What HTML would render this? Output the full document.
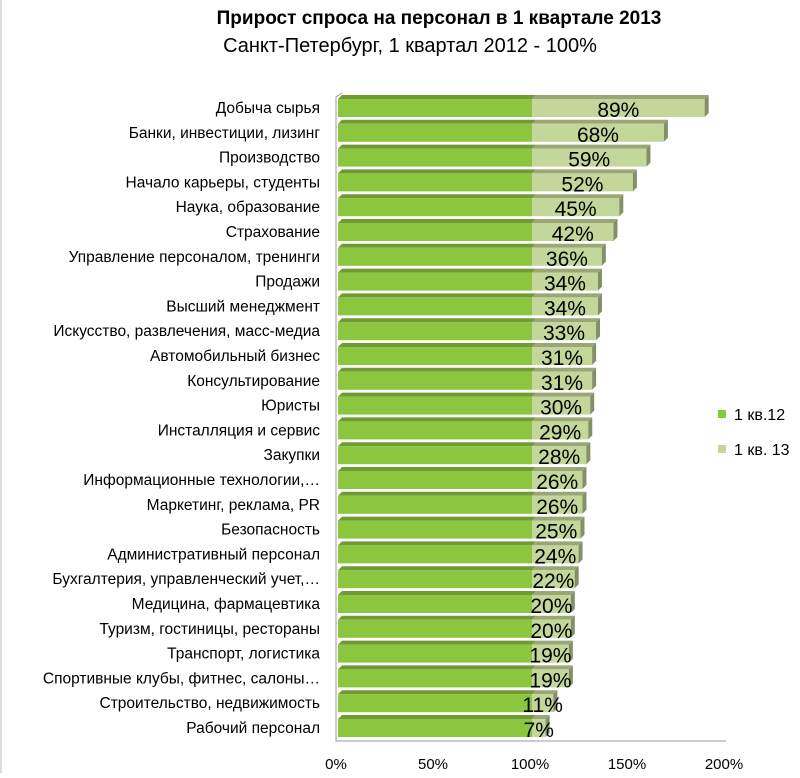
<!DOCTYPE html>
<html><head><meta charset="utf-8"><style>
body{margin:0;background:#fff;}
svg text{font-family:"Liberation Sans","DejaVu Sans",sans-serif;}
</style></head><body>
<svg width="800" height="773" xmlns="http://www.w3.org/2000/svg">
<line x1="1" y1="0" x2="1" y2="773" stroke="#bbb"/>
<text x="439" y="24" text-anchor="middle" font-size="19" font-weight="bold">Прирост спроса на персонал в 1 квартале 2013</text>
<text x="410" y="52" text-anchor="middle" font-size="20">Санкт-Петербург, 1 квартал 2012 - 100%</text>
<g id="plot"></g>
<g>
<rect x="718" y="410" width="8" height="8" fill="#8cc63f"/>
<text x="734" y="420" font-size="16">1 кв.12</text>
<rect x="718" y="445" width="8" height="8" fill="#c4d79b"/>
<text x="734" y="455" font-size="16">1 кв. 13</text>
</g>
</svg>
<script>
const categories=["Добыча сырья","Банки, инвестиции, лизинг","Производство","Начало карьеры, студенты","Наука, образование","Страхование","Управление персоналом, тренинги","Продажи","Высший менеджмент","Искусство, развлечения, масс-медиа","Автомобильный бизнес","Консультирование","Юристы","Инсталляция и сервис","Закупки","Информационные технологии,…","Маркетинг, реклама, PR","Безопасность","Административный персонал","Бухгалтерия, управленческий учет,…","Медицина, фармацевтика","Туризм, гостиницы, рестораны","Транспорт, логистика","Спортивные клубы, фитнес, салоны…","Строительство, недвижимость","Рабочий персонал"];
const base2012=[100,100,100,100,100,100,100,100,100,100,100,100,100,100,100,100,100,100,100,100,100,100,100,100,100,100];
const growth2013=[89,68,59,52,45,42,36,34,34,33,31,31,30,29,28,26,26,25,24,22,20,20,19,19,11,7];
const xTicks=[0,50,100,150,200];
const NS="http://www.w3.org/2000/svg";
const g=document.getElementById('plot');
const x0=338,xs=1.94,y0=99,step=24.8,bh=18,d=4;
const X=v=>x0+v*xs;
const Y=i=>y0+i*step;
function mk(t,a,name){const e=document.createElementNS(NS,t);for(const k in a)e.setAttribute(k,a[k]);


g.appendChild(e);return e;}
mk('polyline',{points:`${x0+d},93 ${x0-2},97 ${x0-2},741 ${X(200)},741`,fill:'none',stroke:'#999','stroke-width':1},'axes');
xTicks.forEach(t=>{const e=mk('text',{x:X(t)-2,y:769,'text-anchor':'middle','font-size':15},'x-tick-label');e.textContent=t+'%';});
categories.forEach((c,i)=>{
 const y=Y(i),a=X(0),b=X(base2012[i]),e=X(base2012[i]+growth2013[i]);
 mk('polygon',{points:`${a},${y} ${a+d},${y-d} ${b+d},${y-d} ${b},${y}`,fill:'#6f9a34'},'bar-2012-top');
 mk('rect',{x:a,y:y,width:b-a,height:bh,fill:'#8cc63f'},'bar-2012');
 mk('polygon',{points:`${b},${y} ${b+d},${y-d} ${e+d},${y-d} ${e},${y}`,fill:'#9aa676'},'bar-2013-top');
 mk('rect',{x:b,y:y,width:e-b,height:bh,fill:'#c4d79b'},'bar-2013');
 mk('polygon',{points:`${e},${y} ${e+d},${y-d} ${e+d},${y+bh-d} ${e},${y+bh}`,fill:'#848f68'},'bar-side');
 const l=mk('text',{x:320,y:y+14,'text-anchor':'end','font-size':15.5},'category-label');l.textContent=c;
 const v=mk('text',{x:(b+e)/2,y:y+18,'text-anchor':'middle','font-size':21},'value-label');v.textContent=growth2013[i]+'%';
});
</script>
</body></html>
